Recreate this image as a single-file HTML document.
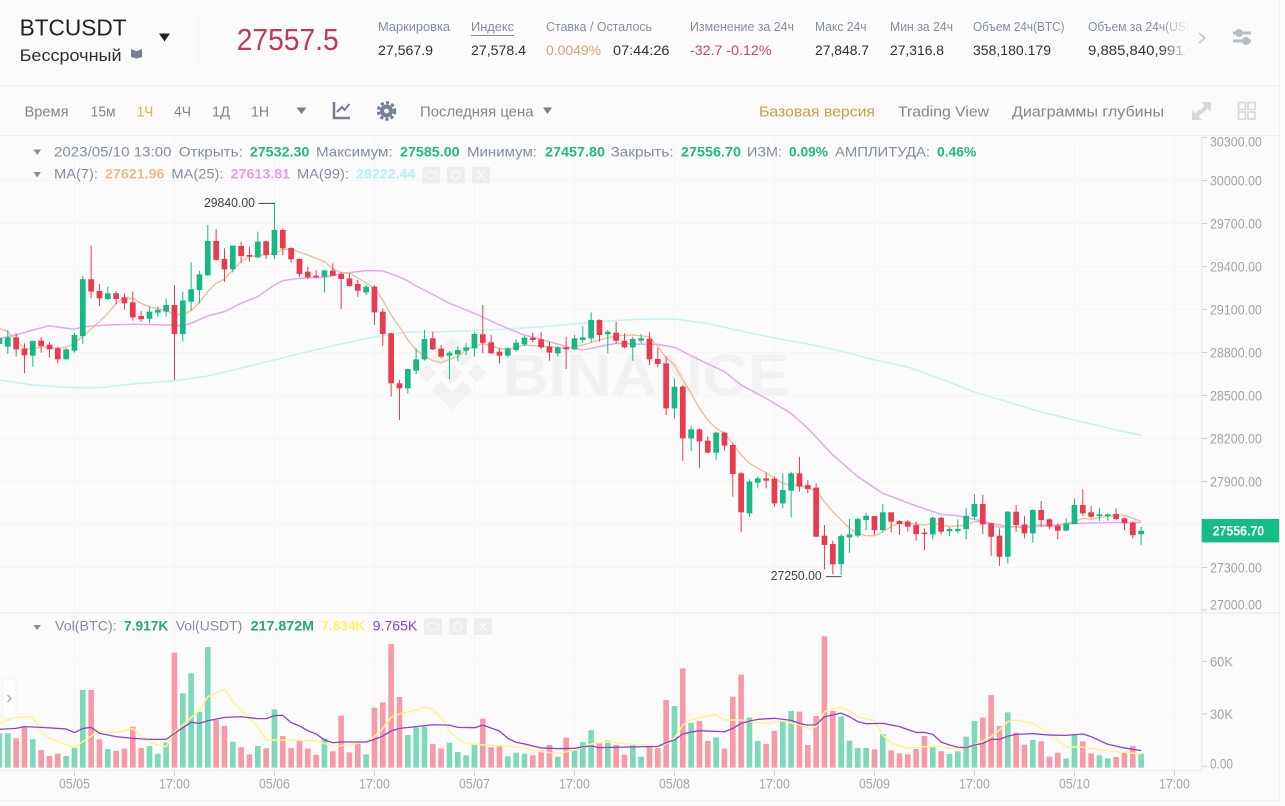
<!DOCTYPE html>
<html lang="ru">
<head>
<meta charset="utf-8">
<title>BTCUSDT chart</title>
<style>
html,body{margin:0;padding:0;background:#fbfbfb;width:1285px;height:806px;overflow:hidden}
svg{display:block}
text{font-family:"Liberation Sans","Noto Sans CJK SC",sans-serif}
.lb{fill:#848e9c;font-size:13px}
.vl{fill:#2f3336;font-size:14px}
.tb{fill:#7f8790;font-size:15px}
.lg{fill:#848e9c;font-size:14px}
.gn{fill:#1fb886;font-size:14px;font-weight:bold}
</style>
</head>
<body>
<svg id="chart" xmlns="http://www.w3.org/2000/svg" width="1285" height="806" viewBox="0 0 1285 806" lengthAdjust="spacingAndGlyphs">
<defs>
<linearGradient id="fade" x1="0" x2="1" y1="0" y2="0"><stop offset="0" stop-color="#fbfbfb" stop-opacity="0"/><stop offset="1" stop-color="#fbfbfb"/></linearGradient>
<clipPath id="plotClip"><rect x="0" y="137" width="1202" height="475"/></clipPath>
<clipPath id="volClip"><rect x="0" y="614" width="1202" height="156"/></clipPath>
</defs>
<rect width="1285" height="806" fill="#fbfbfb"/>
<line x1="0" x2="1280" y1="85.5" y2="85.5" stroke="#f0f0f0"/>
<line x1="0" x2="1280" y1="135.5" y2="135.5" stroke="#f0f0f0"/>
<line x1="1279.5" x2="1279.5" y1="0" y2="800" stroke="#f1f1f1"/>
<line x1="0" x2="1280" y1="800.5" y2="800.5" stroke="#f4f4f4"/>

<g id="grid"></g>

<g fill="#f2f2f3">
<polygon points="452,337 472,357 463,366 452,355 441,366 432,357"/>
<polygon points="452,410 472,390 463,381 452,392 441,381 432,390"/>
<polygon points="418,373 427,364 436,373 427,382"/>
<polygon points="468,373 477,364 486,373 477,382"/>
<polygon points="452,363 462,373 452,383 442,373"/>
<text x="503" y="395" font-size="58" font-weight="bold" textLength="287" lengthAdjust="spacingAndGlyphs">BINANCE</text>
</g>

<g id="priceLines" clip-path="url(#plotClip)"></g>
<g id="candles" clip-path="url(#plotClip)"></g>
<g id="extremes"></g>
<g id="volBars" clip-path="url(#volClip)"></g>
<g id="volLines" clip-path="url(#volClip)"></g>
<g id="axes"></g>

<!-- header -->
<g>
<text x="19.6" y="35.7" font-size="23" fill="#1e2329" textLength="107" lengthAdjust="spacingAndGlyphs">BTCUSDT</text>
<text x="19.6" y="61" font-size="17" fill="#2b2f36" textLength="102" lengthAdjust="spacingAndGlyphs">Бессрочный</text>
<path d="M131 49l5 2 1 0 5-2v8l-5 1.5h-1l-5-1.5z" fill="#76808f"/>
<polygon points="159,33.5 170,33.5 164.5,41.5" fill="#1e2329"/>
</g>
<line x1="198" x2="198" y1="10" y2="63" stroke="#f3f3f3"/>
<text x="236.7" y="50" font-size="31" fill="#c23a50" textLength="102" lengthAdjust="spacingAndGlyphs">27557.5</text>

<text class="lb" x="378" y="31" textLength="72" lengthAdjust="spacingAndGlyphs">Маркировка</text>
<text class="vl" x="378" y="55" textLength="55" lengthAdjust="spacingAndGlyphs">27,567.9</text>
<text class="lb" x="471" y="31" textLength="43" lengthAdjust="spacingAndGlyphs">Индекс</text>
<line x1="471" x2="514" y1="35.5" y2="35.5" stroke="#848e9c"/>
<text class="vl" x="471" y="55" textLength="55" lengthAdjust="spacingAndGlyphs">27,578.4</text>
<text class="lb" x="546" y="31" textLength="106" lengthAdjust="spacingAndGlyphs">Ставка / Осталось</text>
<text class="vl" x="546" y="55" textLength="55" lengthAdjust="spacingAndGlyphs" style="fill:#d9a078">0.0049%</text>
<text class="vl" x="613" y="55" textLength="56.5" lengthAdjust="spacingAndGlyphs">07:44:26</text>
<text class="lb" x="690" y="31" textLength="104" lengthAdjust="spacingAndGlyphs">Изменение за 24ч</text>
<text class="vl" x="690" y="55" textLength="81.5" lengthAdjust="spacingAndGlyphs" style="fill:#c8475c">-32.7 -0.12%</text>
<text class="lb" x="815" y="31" textLength="51.5" lengthAdjust="spacingAndGlyphs">Макс 24ч</text>
<text class="vl" x="815" y="55" textLength="54" lengthAdjust="spacingAndGlyphs">27,848.7</text>
<text class="lb" x="890" y="31" textLength="63" lengthAdjust="spacingAndGlyphs">Мин за 24ч</text>
<text class="vl" x="890" y="55" textLength="54" lengthAdjust="spacingAndGlyphs">27,316.8</text>
<text class="lb" x="973" y="31" textLength="91.5" lengthAdjust="spacingAndGlyphs">Объем 24ч(BTC)</text>
<text class="vl" x="973" y="55" textLength="78" lengthAdjust="spacingAndGlyphs">358,180.179</text>
<text class="lb" x="1088" y="31" textLength="118" lengthAdjust="spacingAndGlyphs">Объем за 24ч(USDT)</text>
<text class="vl" x="1088" y="55" textLength="108" lengthAdjust="spacingAndGlyphs">9,885,840,991.0</text>
<rect x="1160" y="15" width="30" height="50" fill="url(#fade)"/>
<rect x="1190" y="15" width="30" height="50" fill="#fbfbfb"/>
<path d="M1199 33l6 5-6 5" fill="none" stroke="#c4c9d0" stroke-width="1.6"/>
<g fill="none" stroke="#b7bdc6" stroke-width="3">
<line x1="1233" x2="1251" y1="33" y2="33"/>
<line x1="1233" x2="1251" y1="41" y2="41"/>
<circle cx="1239" cy="33" r="2.5" fill="#b7bdc6"/>
<circle cx="1246" cy="41" r="2.5" fill="#b7bdc6"/>
</g>

<!-- toolbar -->
<text class="tb" x="24.5" y="116.5" textLength="44" lengthAdjust="spacingAndGlyphs">Время</text>
<text class="tb" x="90.6" y="116.5" textLength="25" lengthAdjust="spacingAndGlyphs">15м</text>
<text class="tb" x="136.7" y="116.5" textLength="16.5" lengthAdjust="spacingAndGlyphs" style="fill:#e3b341">1Ч</text>
<text class="tb" x="174" y="116.5" textLength="17" lengthAdjust="spacingAndGlyphs">4Ч</text>
<text class="tb" x="212" y="116.5" textLength="18" lengthAdjust="spacingAndGlyphs">1Д</text>
<text class="tb" x="251" y="116.5" textLength="18" lengthAdjust="spacingAndGlyphs">1Н</text>
<polygon points="296.5,107.5 306.5,107.5 301.5,114" fill="#76808f"/>
<g fill="none" stroke="#76808f" stroke-width="2.6">
<path d="M334 102v16h16"/>
<path d="M337 112l5-5 2.5 3 5-6" stroke-width="2"/>
</g>
<g>
<circle cx="386.5" cy="111" r="8.2" fill="none" stroke="#76808f" stroke-width="3" stroke-dasharray="3.2 2.2"/>
<circle cx="386.5" cy="111" r="6.5" fill="#76808f"/>
<circle cx="386.5" cy="111" r="2.4" fill="#fbfbfb"/>
</g>
<text class="tb" x="420" y="116.5" textLength="113.5" lengthAdjust="spacingAndGlyphs">Последняя цена</text>
<polygon points="543,107.5 552,107.5 547.5,114" fill="#76808f"/>
<text class="tb" x="759" y="116.5" textLength="116" lengthAdjust="spacingAndGlyphs" style="fill:#c99d4a">Базовая версия</text>
<text class="tb" x="898" y="116.5" textLength="91" lengthAdjust="spacingAndGlyphs">Trading View</text>
<text class="tb" x="1012" y="116.5" textLength="152" lengthAdjust="spacingAndGlyphs">Диаграммы глубины</text>
<g fill="#d5d8dc">
<polygon points="1201,102 1211,102 1211,112 1207.5,108.5 1203,113 1200,110 1204.5,105.5"/>
<polygon points="1202,120 1192,120 1192,110 1195.5,113.5 1200,109 1203,112 1198.5,116.5"/>
</g>
<g fill="none" stroke="#d5d8dc" stroke-width="1.6">
<rect x="1238.5" y="102.5" width="7" height="7"/>
<rect x="1248" y="102.5" width="7" height="7"/>
<rect x="1238.5" y="112" width="7" height="7"/>
<rect x="1248" y="112" width="7" height="7"/>
</g>

<!-- legend -->
<polygon points="33.5,149.5 41,149.5 37.2,155" fill="#848e9c"/>
<text class="lg" x="54" y="156.5" textLength="117.5" lengthAdjust="spacingAndGlyphs">2023/05/10 13:00</text>
<text class="lg" x="178.8" y="156.5" textLength="64" lengthAdjust="spacingAndGlyphs">Открыть:</text>
<text class="gn" x="249.8" y="156.5" textLength="59.6" lengthAdjust="spacingAndGlyphs">27532.30</text>
<text class="lg" x="316" y="156.5" textLength="76.7" lengthAdjust="spacingAndGlyphs">Максимум:</text>
<text class="gn" x="400" y="156.5" textLength="59.6" lengthAdjust="spacingAndGlyphs">27585.00</text>
<text class="lg" x="467" y="156.5" textLength="70" lengthAdjust="spacingAndGlyphs">Минимум:</text>
<text class="gn" x="545" y="156.5" textLength="60" lengthAdjust="spacingAndGlyphs">27457.80</text>
<text class="lg" x="610.6" y="156.5" textLength="63" lengthAdjust="spacingAndGlyphs">Закрыть:</text>
<text class="gn" x="681" y="156.5" textLength="60" lengthAdjust="spacingAndGlyphs">27556.70</text>
<text class="lg" x="747" y="156.5" textLength="35" lengthAdjust="spacingAndGlyphs">ИЗМ:</text>
<text class="gn" x="789" y="156.5" textLength="39" lengthAdjust="spacingAndGlyphs">0.09%</text>
<text class="lg" x="835" y="156.5" textLength="95" lengthAdjust="spacingAndGlyphs">АМПЛИТУДА:</text>
<text class="gn" x="937" y="156.5" textLength="39.3" lengthAdjust="spacingAndGlyphs">0.46%</text>

<polygon points="33.5,172 41,172 37.2,177.5" fill="#848e9c"/>
<text class="lg" x="54" y="178.5" textLength="44" lengthAdjust="spacingAndGlyphs">МА(7):</text>
<text class="lg" x="105" y="178.5" textLength="59.5" lengthAdjust="spacingAndGlyphs" style="fill:#eebb8e;font-weight:bold">27621.96</text>
<text class="lg" x="171.4" y="178.5" textLength="52" lengthAdjust="spacingAndGlyphs">МА(25):</text>
<text class="lg" x="230.6" y="178.5" textLength="59.5" lengthAdjust="spacingAndGlyphs" style="fill:#e19fe6;font-weight:bold">27613.81</text>
<text class="lg" x="297" y="178.5" textLength="52" lengthAdjust="spacingAndGlyphs">МА(99):</text>
<text class="lg" x="356" y="178.5" textLength="59.5" lengthAdjust="spacingAndGlyphs" style="fill:#b5f2f6;font-weight:bold">28222.44</text>
<g fill="#eeeeee">
<rect x="422.4" y="166.7" width="17.6" height="16.6"/>
<rect x="447" y="166.7" width="17.6" height="16.6"/>
<rect x="472" y="166.7" width="18" height="16.6"/>
<ellipse cx="431.2" cy="175" rx="6" ry="3.6" fill="none" stroke="#fbfbfb"/>
<circle cx="455.8" cy="175" r="4.2" fill="none" stroke="#fbfbfb" stroke-width="1.4"/>
<path d="M477 170.5l8 9M485 170.5l-8 9" stroke="#fbfbfb" stroke-width="1.4"/>
</g>

<polygon points="33.5,625 41,625 37.2,630" fill="#848e9c"/>
<text class="lg" x="55" y="630.7" textLength="61.7" lengthAdjust="spacingAndGlyphs">Vol(BTC):</text>
<text class="gn" x="124" y="630.7" textLength="44.3" lengthAdjust="spacingAndGlyphs" style="fill:#2aa57a">7.917K</text>
<text class="lg" x="175.7" y="630.7" textLength="66.6" lengthAdjust="spacingAndGlyphs">Vol(USDT)</text>
<text class="gn" x="250.7" y="630.7" textLength="63.3" lengthAdjust="spacingAndGlyphs" style="fill:#2aa57a">217.872M</text>
<text class="lg" x="321.3" y="630.7" textLength="44" lengthAdjust="spacingAndGlyphs" style="fill:#fff26e;font-weight:bold">7.834K</text>
<text class="lg" x="372.7" y="630.7" textLength="44.6" lengthAdjust="spacingAndGlyphs" style="fill:#8b45cf">9.765K</text>
<g fill="#eeeeee">
<rect x="424" y="618" width="18" height="17"/>
<rect x="449" y="618" width="18" height="17"/>
<rect x="474" y="618" width="18" height="17"/>
<ellipse cx="433" cy="626.5" rx="6" ry="3.6" fill="none" stroke="#fbfbfb"/>
<circle cx="458" cy="626.5" r="4.2" fill="none" stroke="#fbfbfb" stroke-width="1.4"/>
<path d="M479 622l8 9M487 622l-8 9" stroke="#fbfbfb" stroke-width="1.4"/>
</g>

<g>
<rect x="2.7" y="679" width="13.3" height="39" rx="3" fill="#ffffff" stroke="#f1f1f1"/>
<path d="M7.5 695l3.5 3.5-3.5 3.5" fill="none" stroke="#9aa0aa" stroke-width="1.2"/>
</g>

<script>
// Candle index: -1 is the partly visible bar at the left edge, 136 the last hour.
const firstIndex = -1;
const opens = [28860,28841,28906,28827,28778,28883,28855,28829,28752,28813,28915,29311,29229,29173,29213,29185,29150,29055,29036,29078,29085,29131,28929,29155,29236,29339,29578,29453,29380,29543,29480,29464,29576,29480,29655,29529,29453,29364,29336,29329,29371,29347,29317,29278,29219,29259,29085,28934,28585,28550,28673,28752,28899,28827,28778,28787,28813,28829,28927,28871,28806,28778,28817,28857,28903,28892,28841,28794,28836,28822,28887,28899,29027,28927,28938,28882,28836,28882,28896,28755,28724,28410,28562,28201,28264,28185,28101,28241,28155,27957,27678,27892,27922,27920,27747,27836,27957,27875,27857,27522,27464,27324,27510,27522,27631,27659,27561,27685,27624,27620,27596,27543,27531,27647,27554,27554,27568,27654,27743,27608,27522,27375,27689,27601,27538,27701,27636,27592,27557,27603,27736,27685,27659,27659,27673,27643,27612,27532.3];
const highs = [28930,28957,28934,28864,28883,28906,28876,28841,28829,28938,29334,29546,29278,29259,29229,29213,29225,29090,29120,29120,29178,29271,29225,29429,29369,29690,29660,29527,29546,29573,29539,29643,29580,29840,29666,29534,29457,29399,29376,29376,29422,29359,29352,29306,29271,29270,29108,28938,28608,28689,28829,28957,28945,28852,28810,28841,28864,28941,29131,28922,28829,28836,28892,28917,28938,28945,28875,28845,28910,28922,28985,29080,29031,28957,29015,28934,28910,28929,28941,28829,28771,28620,28573,28287,28268,28213,28248,28248,28166,27968,27915,27934,27961,27934,27957,27968,28073,27910,27887,27596,27487,27534,27638,27647,27682,27661,27743,27685,27631,27631,27620,27573,27654,27654,27580,27636,27713,27813,27806,27612,27573,27694,27736,27661,27706,27764,27643,27608,27643,27782,27845,27729,27713,27678,27713,27647,27619,27585];
const lows = [28840,28790,28771,28655,28701,28799,28764,28724,28752,28799,28859,29178,29125,29166,29136,29101,29022,29015,29004,29050,29050,28608,28876,29092,29143,29334,29441,29294,29359,29427,29434,29457,29453,29453,29480,29427,29329,29313,29318,29218,29334,29103,29259,29189,29201,28992,28845,28492,28329,28515,28650,28743,28817,28759,28613,28741,28782,28771,28794,28789,28724,28766,28806,28845,28871,28824,28743,28771,28685,28817,28868,28868,28875,28794,28859,28829,28743,28864,28713,28696,28364,28340,28045,28113,27996,28096,28050,28115,27794,27545,27654,27852,27852,27724,27713,27650,27829,27817,27515,27287,27252,27250,27403,27510,27561,27527,27545,27545,27527,27550,27487,27422,27496,27533,27519,27538,27498,27631,27533,27382,27312,27329,27550,27503,27473,27585,27566,27496,27554,27601,27659,27643,27624,27626,27631,27561,27503,27457.8];
const closes = [28900,28906,28822,28780,28880,28845,28822,28752,28822,28922,29311,29225,29178,29213,29173,29143,29045,29032,29085,29097,29131,28929,29162,29241,29345,29578,29446,29380,29546,29473,29469,29573,29480,29655,29527,29450,29348,29325,29325,29373,29336,29313,29264,29231,29259,29080,28929,28585,28550,28685,28752,28894,28822,28771,28799,28817,28836,28929,28868,28794,28778,28829,28868,28903,28887,28836,28799,28836,28822,28899,28906,29027,28922,28945,28882,28836,28894,28899,28752,28720,28410,28561,28201,28264,28180,28101,28241,28150,27952,27685,27899,27922,27906,27747,27841,27957,27864,27848,27515,27457,27322,27520,27531,27638,27661,27561,27685,27620,27603,27585,27533,27533,27647,27550,27568,27568,27661,27743,27601,27515,27375,27689,27596,27538,27701,27631,27585,27557,27608,27736,27678,27654,27671,27671,27638,27608,27526,27556.7];
// Traded volume per candle, thousands of BTC
const volumes = [19.7,19.7,16.8,23.1,16.2,10.1,6.7,8.0,6.7,11.3,44.5,44.5,16.2,10.7,9.6,10.9,23.5,11.3,12.4,8.0,14.5,65.9,42.6,54.1,31.9,69.1,27.3,23.9,14.9,11.7,7.6,12.4,11.1,33.4,18.1,11.3,15.5,10.9,7.4,16.8,9.4,29.8,8.8,13.6,7.6,34.4,37.4,70.9,40.5,18.7,23.1,23.5,13.6,11.1,14.3,9.0,7.1,13.2,28.1,11.7,12.6,6.5,8.6,8.0,7.1,9.9,13.0,6.3,17.2,10.1,14.7,21.4,14.7,15.7,13.0,7.4,12.8,6.3,12.0,11.3,38.8,35.3,56.9,25.6,26.7,15.3,17.4,10.9,40.7,53.3,28.8,15.3,13.6,21.0,26.4,32.5,32.1,13.0,29.6,75.3,32.5,29.2,15.5,11.3,11.3,10.5,19.3,9.9,8.2,7.6,10.7,18.1,12.0,9.4,7.8,9.4,17.8,26.7,28.7,41.6,23.9,31.7,20.1,13.2,15.9,15.1,6.3,8.6,5.3,19.3,15.1,8.2,7.1,5.3,6.1,9.2,12.4,7.917];

const ma7Index = [-1,0,1,2,3,4,5,6,7,8,9,10,11,12,13,14,15,16,17,18,19,20,21,22,23,24,25,26,27,28,29,30,32,33,34,36,38,39,40,41,42,43,44,45,46,47,48,49,50,51,52,53,54,55,56,57,59,60,62,64,66,67,69,71,73,75,77,78,79,80,81,82,83,84,85,86,87,88,89,90,91,92,93,94,95,96,97,98,99,100,101,102,103,104,105,106,107,109,110,111,113,115,116,117,118,119,120,122,124,126,127,128,129,130,132,134,135,136];
const ma7Values = [28969,28945,28887,28829,28822,28841,28836,28829,28836,28864,28915,28962,29015,29073,29143,29178,29178,29143,29120,29106,29092,29069,29062,29092,29148,29225,29283,29311,29376,29434,29469,29476,29492,29520,29520,29480,29434,29383,29357,29355,29320,29285,29250,29166,29062,28980,28887,28817,28775,28743,28729,28752,28771,28817,28841,28864,28829,28822,28852,28845,28836,28829,28852,28887,28917,28922,28910,28841,28765,28713,28608,28515,28410,28329,28271,28236,28166,28085,28027,27992,27961,27922,27887,27875,27875,27852,27841,27759,27689,27631,27573,27538,27522,27522,27550,27585,27613,27603,27596,27608,27585,27596,27619,27619,27596,27580,27585,27585,27601,27585,27608,27619,27643,27636,27659,27666,27643,27621.96];
const ma25Index = [-1,1,3,5,7,8,9,12,15,19,21,22,24,26,28,30,32,33,35,38,40,43,45,46,47,48,49,50,53,56,59,62,65,67,69,71,73,75,78,80,83,86,88,91,94,96,99,102,105,109,112,114,116,118,120,122,125,128,132,136];
const ma25Values = [28899,28922,28957,28987,28969,28962,28980,28992,28997,28992,28987,29004,29055,29085,29143,29190,29271,29301,29318,29325,29350,29371,29369,29348,29327,29299,29264,29236,29143,29073,28992,28922,28875,28841,28817,28841,28864,28859,28857,28836,28748,28666,28573,28480,28375,28271,28085,27934,27817,27730,27671,27661,27636,27608,27585,27580,27592,27608,27613,27613.81];
const ma99Index = [-1,3,8,11,15,20,24,28,32,36,40,44,48,52,56,60,64,68,72,76,80,84,88,92,96,100,104,108,112,116,120,124,128,132,136];
const ma99Values = [28608,28573,28554,28554,28580,28603,28636,28692,28748,28806,28859,28910,28943,28945,28952,28964,28980,28999,29020,29032,29034,29002,28950,28901,28859,28810,28748,28699,28615,28524,28455,28385,28329,28273,28222.44];
const volMa7Index = [-1,0,1,3,4,5,6,8,9,10,11,13,15,16,17,19,20,21,23,24,26,27,29,30,31,32,37,39,41,43,44,45,46,47,49,50,51,52,53,54,55,57,60,62,64,66,68,70,72,74,76,78,79,80,81,82,83,85,86,88,89,91,93,95,96,97,98,99,100,101,102,104,105,106,108,110,112,114,116,118,119,120,121,123,125,127,129,132,136];
const volMa7Values = [25.4,27.3,28.8,29.2,20.6,16.8,14.9,11.7,14.9,18.1,20.6,20.1,22.5,17.8,14.3,12.0,20.6,24.4,33.0,40.7,44.9,37.8,28.3,23.5,15.9,15.9,15.5,12.4,13.0,14.9,17.8,22.5,28.8,30.8,33.0,35.0,33.4,28.8,20.6,16.8,13.9,13.0,12.4,11.1,9.2,8.2,10.1,13.6,14.9,13.9,13.0,11.7,13.9,16.8,24.4,27.3,28.8,30.2,27.3,27.3,26.4,25.4,26.9,24.4,22.5,23.5,32.1,33.8,34.6,32.1,29.2,26.9,18.7,13.9,11.1,12.0,12.0,10.5,13.0,17.8,21.6,26.4,27.3,25.4,19.7,12.0,11.7,9.7,7.834];
const volMa14Index = [-1,1,2,4,7,8,9,10,11,13,15,17,19,20,22,23,24,26,28,30,31,32,33,34,35,36,37,38,39,40,43,44,45,46,47,49,51,53,54,56,57,59,60,61,62,64,66,68,69,70,71,73,76,78,79,80,81,82,83,86,87,88,89,90,92,94,95,96,97,98,99,100,101,102,103,105,107,109,110,111,112,113,114,115,116,117,118,119,120,121,123,125,127,129,130,132,134,136];
const volMa14Values = [22.0,22.5,23.5,23.1,22.2,20.1,22.5,23.1,19.7,17.8,16.8,16.2,16.2,19.7,26.0,25.4,26.9,28.8,29.2,28.1,28.1,29.8,30.0,25.8,23.9,21.2,19.3,15.9,14.3,14.7,14.7,16.2,18.1,21.0,22.5,23.5,24.6,24.4,23.1,22.9,24.4,21.0,16.8,14.5,13.6,11.3,10.9,11.1,12.0,12.4,11.5,11.7,12.0,12.2,14.3,15.9,19.3,20.4,21.2,20.6,22.5,25.4,26.7,27.7,28.3,27.1,25.4,24.4,24.6,29.2,30.2,31.3,29.2,26.4,25.2,25.4,23.5,20.2,20.2,19.1,14.7,13.0,11.7,11.5,13.0,13.9,16.2,16.2,18.1,19.1,19.5,18.7,18.5,19.3,17.8,13.4,11.3,9.765];

const priceTicks = [30300,30000,29700,29400,29100,28800,28500,28200,27900,27600,27300,27000];
const priceTickLabels = ['30300.00','30000.00','29700.00','29400.00','29100.00','28800.00','28500.00','28200.00','27900.00','27600.00','27300.00','27000.00'];
const volTicks = [60,30,0];
const volTickLabels = ['60K','30K','0.00'];
const timeTickIndex = [8,20,32,44,56,68,80,92,104,116,128,140];
const timeTickLabels = ['05/05','17:00','05/06','17:00','05/07','17:00','05/08','17:00','05/09','17:00','05/10','17:00'];
const lastPrice = 27556.70;

const SVGNS = 'http://www.w3.org/2000/svg';
function xOf(i){ return 7.8 + i * 100 / 12; }
function priceY(p){ return 180.5 + (30000 - p) * 43 / 300; }
function volY(v){ return 767.67 - v * 1.745; }
function mk(tag, attrs, parent){
  const el = document.createElementNS(SVGNS, tag);
  for (const k in attrs) el.setAttribute(k, attrs[k]);
  parent.appendChild(el);
  return el;
}
const grid = document.getElementById('grid');
const axes = document.getElementById('axes');
const candles = document.getElementById('candles');
const volBars = document.getElementById('volBars');
const priceLines = document.getElementById('priceLines');
const volLines = document.getElementById('volLines');
const extremes = document.getElementById('extremes');

priceTicks.forEach(function(t, n){
  const ty = Math.min(priceY(t), 610);
  if (n > 0 && n < priceTicks.length - 1) {
    const g = mk('line', {x1:0, x2:1202, y1:ty, y2:ty, stroke:'#f5f5f5'}, grid);
    
    
  }
  const tk = mk('line', {x1:1202, x2:1207, y1:ty, y2:ty, stroke:'#c9cdd2'}, axes);
  
  
  const labelY = n === 0 ? ty + 9 : (n === priceTicks.length - 1 ? ty - 0.5 : ty + 5);
  const lab = mk('text', {x:1210, y:labelY, 'font-size':14, fill:'#a0a5ad', textLength:52, lengthAdjust:'spacingAndGlyphs'}, axes);
  lab.textContent = priceTickLabels[n];
  
  
});
volTicks.forEach(function(t, n){
  const ty = volY(t) - 1.4;
  if (t > 0) {
    const g = mk('line', {x1:0, x2:1202, y1:ty, y2:ty, stroke:'#f5f5f5'}, grid);
    
    
  }
  const tk = mk('line', {x1:1202, x2:1207, y1:ty, y2:ty, stroke:'#c9cdd2'}, axes);
  
  
  const lab = mk('text', {x:1210, y:t > 0 ? ty + 5 : ty + 2, 'font-size':14, fill:'#a0a5ad', textLength:23, lengthAdjust:'spacingAndGlyphs'}, axes);
  lab.textContent = volTickLabels[n];
  
  
});
timeTickIndex.forEach(function(i, n){
  const tx = xOf(i);
  const g = mk('line', {x1:tx, x2:tx, y1:137, y2:770, stroke:'#f5f5f5'}, grid);
  
  
  const tk = mk('line', {x1:tx, x2:tx, y1:770.5, y2:776, stroke:'#c9cdd2'}, axes);
  
  
  const lab = mk('text', {x:tx, y:788.5, 'font-size':14, fill:'#a0a5ad', 'text-anchor':'middle', textLength:31, lengthAdjust:'spacingAndGlyphs'}, axes);
  lab.textContent = timeTickLabels[n];
  
  
});

const priceAxisLine = mk('line', {x1:1201.75, x2:1201.75, y1:137, y2:770, stroke:'#e6e7e9'}, axes);


const timeAxisLine = mk('line', {x1:0, x2:1202, y1:770.5, y2:770.5, stroke:'#ececec'}, axes);


const panelDivider = mk('rect', {x:0, y:612, width:1280, height:2, fill:'#f1f1f1'}, axes);



function linePoints(idx, vals, yFn){
  return idx.map(function(i, n){ return xOf(i).toFixed(2) + ',' + yFn(vals[n]).toFixed(2); }).join(' ');
}
const ma99Line = mk('polyline', {points:linePoints(ma99Index, ma99Values, priceY), fill:'none', stroke:'#c6f3f6', 'stroke-width':1.5, 'stroke-linejoin':'round'}, priceLines);


const ma25Line = mk('polyline', {points:linePoints(ma25Index, ma25Values, priceY), fill:'none', stroke:'#e6a8ee', 'stroke-width':1.5, 'stroke-linejoin':'round'}, priceLines);


const ma7Line = mk('polyline', {points:linePoints(ma7Index, ma7Values, priceY), fill:'none', stroke:'#f2bb92', 'stroke-width':1.3, 'stroke-linejoin':'round'}, priceLines);



opens.forEach(function(o, n){
  const i = firstIndex + n;
  const c = closes[n];
  const up = c >= o;
  const col = up ? '#15b985' : '#ea3a52';
  const cx = xOf(i);
  const wick = mk('line', {x1:cx, x2:cx, y1:priceY(highs[n]), y2:priceY(lows[n]), stroke:col, 'stroke-width':1}, candles);
  
  
  const top = priceY(Math.max(o, c));
  const body = mk('rect', {x:cx - 2.85, y:top, width:5.7, height:Math.max(1.2, priceY(Math.min(o, c)) - top), fill:col}, candles);
  
  
  const barTop = volY(volumes[n]);
  const bar = mk('rect', {x:cx - 2.8, y:barTop, width:5.6, height:volY(0) - barTop, fill:up ? '#7cdab9' : '#f79aa8'}, volBars);
  
  
});

const volMa7Line = mk('polyline', {points:linePoints(volMa7Index, volMa7Values, volY), fill:'none', stroke:'#fff491', 'stroke-width':1.6, 'stroke-linejoin':'round'}, volLines);


const volMa14Line = mk('polyline', {points:linePoints(volMa14Index, volMa14Values, volY), fill:'none', stroke:'#8c42cf', 'stroke-width':1.3, 'stroke-linejoin':'round'}, volLines);



const maxHigh = Math.max.apply(null, highs);
const minLow = Math.min.apply(null, lows);
const maxX = xOf(firstIndex + highs.indexOf(maxHigh));
const minX = xOf(firstIndex + lows.indexOf(minLow));
const hiLine = mk('line', {x1:maxX - 16, x2:maxX + 0.5, y1:priceY(maxHigh), y2:priceY(maxHigh), stroke:'#444', 'stroke-width':1}, extremes);


const hiLabel = mk('text', {x:maxX - 70.5, y:priceY(maxHigh) + 3.5, 'font-size':13, fill:'#444', textLength:51, lengthAdjust:'spacingAndGlyphs'}, extremes);
hiLabel.textContent = maxHigh.toFixed(2);


const loLine = mk('line', {x1:minX - 15, x2:minX + 0.5, y1:priceY(minLow) + 2, y2:priceY(minLow) + 2, stroke:'#444', 'stroke-width':1}, extremes);


const loLabel = mk('text', {x:minX - 70.4, y:priceY(minLow) + 5.5, 'font-size':13, fill:'#444', textLength:51, lengthAdjust:'spacingAndGlyphs'}, extremes);
loLabel.textContent = minLow.toFixed(2);



const priceY0 = priceY(lastPrice);
const priceBox = mk('rect', {x:1201.7, y:priceY0 - 11.7, width:77.5, height:23.4, fill:'#14bd85'}, axes);


const priceBoxText = mk('text', {x:1212.7, y:priceY0 + 5, 'font-size':14, 'font-weight':'bold', fill:'#ffffff', textLength:51.5, lengthAdjust:'spacingAndGlyphs'}, axes);
priceBoxText.textContent = lastPrice.toFixed(2);


</script>
</svg>
</body>
</html>
